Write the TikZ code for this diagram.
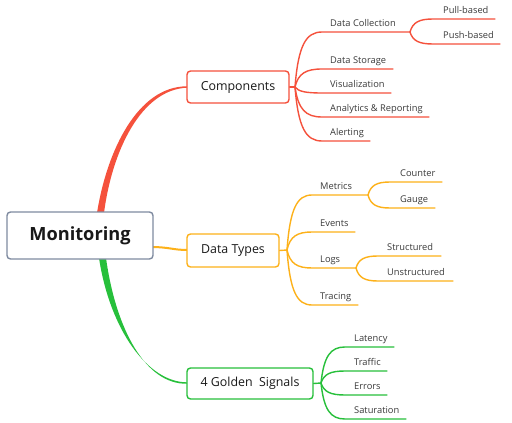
\documentclass[tikz,border=0pt]{standalone}
\usepackage{fontspec}
\setmainfont{Open Sans}
\usetikzlibrary{calc}
\definecolor{cRed}{HTML}{F5513C}
\definecolor{cOra}{HTML}{FDB119}
\definecolor{cGrn}{HTML}{27C03B}
\definecolor{cGray}{HTML}{7F8BA0}
\definecolor{cTxt}{HTML}{3A3A3A}
\begin{document}
\begin{tikzpicture}[x=1pt,y=-1pt,
  topic/.style={draw, line width=1.4pt, rounded corners=3.5pt, fill=white,
    font=\fontsize{12.4}{14}\selectfont, text=black!90, inner sep=0pt},
  leaf/.style={anchor=base west, inner sep=0pt, font=\fontsize{9.3}{11}\selectfont, text=cTxt},
  br/.style={line width=1.4pt, line cap=round},
  mm/.style={to path={let \p1=(\tikztostart), \p2=(\tikztotarget) in
     .. controls ({\x1+0.12*(\x2-\x1)},{\y1+0.75*(\y2-\y1)}) and ({\x1+0.4*(\x2-\x1)},\y2) .. (\tikztotarget)}},
]
\useasboundingbox[fill=white] (0,0) rectangle (512,423);

% main branches
\fill[cRed] (97,213) .. controls (107,150) and (138,86.3) .. (187,86.3) -- (187,87.7) .. controls (141,89.7) and (112,151) .. (104,213) -- cycle;
\fill[cGrn] (99,258) .. controls (110,330) and (148,382.3) .. (187,382.3) -- (187,383.7) .. controls (146,384.7) and (116,330) .. (106,258) -- cycle;
\draw[cOra, line width=2pt] (150,247) .. controls (170,247) and (172,250) .. (188,250);

% topics
\node[topic, draw=cGray, minimum width=146pt, minimum height=47pt,
  font=\fontsize{18.2}{20}\bfseries] (mon) at (80,235.5) {Monitoring};
\node[topic, draw=cRed, minimum width=102pt, minimum height=32pt] (comp) at (238,87) {Components};
\node[topic, draw=cOra, minimum width=92pt, minimum height=33pt] (dt) at (233,250.5) {Data Types};
\node[topic, draw=cGrn, minimum width=126pt, minimum height=31pt] (gs) at (250,383.5) {4 Golden~ Signals};

% hubs
\coordinate (hA) at (295,87);
\coordinate (hB) at (287,250);
\coordinate (hC) at (321,383);
\draw[br,cRed] (comp.east) -- (hA);
\draw[br,cOra] (dt.east) -- (hB);
\draw[br,cGrn] (gs.east) -- (hC);

% Components leaves
\node[leaf] (dc) at (330,26.5) {Data Collection};
\node[leaf] (pull) at (443,13.5) {Pull-based};
\node[leaf] (push) at (443,38.5) {Push-based};
\node[leaf] (ds) at (330,63.5) {Data Storage};
\node[leaf] (vis) at (330,87.5) {Visualization};
\node[leaf] (ar) at (330,111.5) {Analytics \& Reporting};
\node[leaf] (al) at (330,135.5) {Alerting};
\coordinate (dcS) at (322,32); \coordinate (dcE) at (410,32);
\coordinate (pullS) at (433,19); \coordinate (pullE) at (495,19);
\coordinate (pushS) at (433,44); \coordinate (pushE) at (500,44);
\coordinate (dsS) at (322,69); \coordinate (dsE) at (393,69);
\coordinate (visS) at (322,93); \coordinate (visE) at (391,93);
\coordinate (arS) at (322,117); \coordinate (arE) at (429,117);
\coordinate (alS) at (322,141); \coordinate (alE) at (370,141);
\begin{scope}[br,cRed]
\draw (hA) to[mm] (dcS) -- (dcE);
\draw (dcE) to[mm] (pullS) -- (pullE);
\draw (dcE) to[mm] (pushS) -- (pushE);
\draw (hA) to[mm] (dsS) -- (dsE);
\draw (hA) to[mm] (visS) -- (visE);
\draw (hA) to[mm] (arS) -- (arE);
\draw (hA) to[mm] (alS) -- (alE);
\end{scope}

% Data Types leaves
\node[leaf] (met) at (320,189.5) {Metrics};
\node[leaf] (cnt) at (400,176.5) {Counter};
\node[leaf] (gau) at (400,202.5) {Gauge};
\node[leaf] (ev) at (320,226.5) {Events};
\node[leaf] (logs) at (320,262.5) {Logs};
\node[leaf] (str) at (387,250.5) {Structured};
\node[leaf] (uns) at (387,275.5) {Unstructured};
\node[leaf] (tr) at (320,299.5) {Tracing};
\coordinate (metS) at (312,195); \coordinate (metE) at (368,195);
\coordinate (cntS) at (390,182); \coordinate (cntE) at (442,182);
\coordinate (gauS) at (390,208); \coordinate (gauE) at (435,208);
\coordinate (evS) at (312,232); \coordinate (evE) at (355,232);
\coordinate (logsS) at (312,268); \coordinate (logsE) at (356,268);
\coordinate (strS) at (378,256); \coordinate (strE) at (441,256);
\coordinate (unsS) at (378,281); \coordinate (unsE) at (453,281);
\coordinate (trS) at (312,305); \coordinate (trE) at (358,305);
\begin{scope}[br,cOra]
\draw (hB) to[mm] (metS) -- (metE);
\draw (metE) to[mm] (cntS) -- (cntE);
\draw (metE) to[mm] (gauS) -- (gauE);
\draw (hB) to[mm] (evS) -- (evE);
\draw (hB) to[mm] (logsS) -- (logsE);
\draw (logsE) to[mm] (strS) -- (strE);
\draw (logsE) to[mm] (unsS) -- (unsE);
\draw (hB) to[mm] (trS) -- (trE);
\end{scope}

% Golden signals leaves
\node[leaf] (lat) at (354,341.5) {Latency};
\node[leaf] (tra) at (354,365.5) {Traffic};
\node[leaf] (err) at (354,389.5) {Errors};
\node[leaf] (sat) at (354,413.5) {Saturation};
\coordinate (latS) at (345,347); \coordinate (latE) at (394,347);
\coordinate (traS) at (345,371); \coordinate (traE) at (387,371);
\coordinate (errS) at (345,395); \coordinate (errE) at (387,395);
\coordinate (satS) at (345,419); \coordinate (satE) at (406,419);
\begin{scope}[br,cGrn]
\draw (hC) to[mm] (latS) -- (latE);
\draw (hC) to[mm] (traS) -- (traE);
\draw (hC) to[mm] (errS) -- (errE);
\draw (hC) to[mm] (satS) -- (satE);
\end{scope}
\end{tikzpicture}
\end{document}
